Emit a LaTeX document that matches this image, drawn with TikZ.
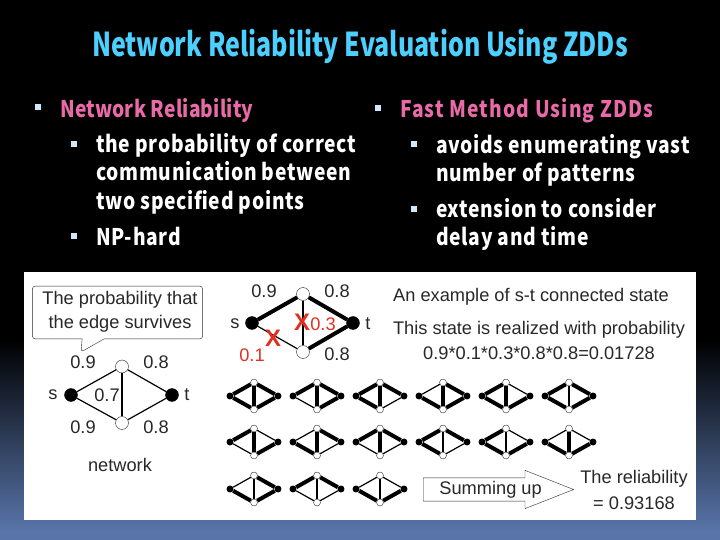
\documentclass[tikz,border=0pt]{standalone}
\usepackage{fontspec}
\setmainfont{Liberation Sans}
\newfontfamily\slidefont[LetterSpace=3,FakeStretch=0.84]{Noto Sans CJK JP}
\newfontfamily\titlefont[FakeStretch=0.76]{Noto Sans CJK JP}
\usepackage{tikz}
\usetikzlibrary{shapes.callouts}
\usetikzlibrary{shapes.arrows}
\definecolor{skyblue}{RGB}{76,208,255}
\definecolor{headpink}{RGB}{232,106,166}
\definecolor{bulletblue}{RGB}{208,232,250}
\definecolor{slideblue}{RGB}{88,116,168}
\definecolor{inkgray}{RGB}{40,40,40}
\definecolor{crossred}{RGB}{224,48,32}
\tikzset{
    headtext/.style={anchor=west, inner sep=0pt, text=headpink, font=\slidefont\bfseries\fontsize{23}{28}\selectfont},
    bodytext/.style={anchor=west, inner sep=0pt, text=white, align=left, font=\slidefont\bfseries\fontsize{23}{28.5}\selectfont},
    bulletmark/.style={fill=bulletblue, minimum size=7, inner sep=0pt},
    lbl/.style={text=inkgray, inner sep=0pt, font=\fontsize{18.3}{20}\selectfont},
    redlbl/.style={text=crossred, inner sep=0pt, font=\fontsize{18.3}{20}\selectfont},
    crossmark/.style={text=crossred, inner sep=0pt, font=\bfseries\fontsize{24}{24}\selectfont},
    bigblack/.style={circle, fill=black, draw=black, minimum size=13, inner sep=0pt},
    bigwhite/.style={circle, fill=white, draw=inkgray, minimum size=13, inner sep=0pt},
    tinyblack/.style={circle, fill=black, minimum size=7, inner sep=0pt},
    tinywhite/.style={circle, fill=white, draw=inkgray, minimum size=7, inner sep=0pt},
    edge0/.style={black, line width=1.2},
    edge1/.style={black, line width=4},
}
\begin{document}
\begin{tikzpicture}[x=1bp, y=-1bp]
    \useasboundingbox (0,0) rectangle (720,540);
    \fill[black] (0,0) rectangle (720,340);
    \shade[top color=black, bottom color=slideblue] (0,340) rectangle (720,530);
    \fill[slideblue] (0,530) rectangle (720,540);
    \fill[white] (24,272) rectangle (696,520);

    \node[text=skyblue, font=\titlefont\bfseries\fontsize{33}{36}\selectfont] (title) at (360,46.5) {Network Reliability Evaluation Using ZDDs};

    \node[bulletmark] (bl1) at (38,107) {};
    \node[headtext] (reliab) at (60,110) {\addfontfeature{LetterSpace=0.8}Network Reliability};
    \node[bulletmark] (bl2) at (74,144) {};
    \node[bodytext, anchor=north west] (prob) at (96,133) {the probability of correct\\communication between\\two specified points};
    \node[bulletmark] (bl3) at (74,236) {};
    \node[bodytext] (nphard) at (96,237) {NP-hard};

    \node[bulletmark] (br1) at (378,108) {};
    \node[headtext] (fastzdd) at (400,111) {\addfontfeature{LetterSpace=5}Fast Method Using ZDDs};
    \node[bulletmark] (br2) at (414,144) {};
    \node[bodytext, anchor=north west] (avoids) at (436,134) {avoids enumerating vast\\number of patterns};
    \node[bulletmark] (br3) at (414,209) {};
    \node[bodytext, anchor=north west] (extens) at (436,198) {extension to consider\\delay and time};

    \node[rectangle callout, draw=inkgray, fill=white, rounded corners=3, minimum width=171, minimum height=53, callout absolute pointer={(81,352)}, callout pointer width=22] (surv) at (117.5,312.5) {};
    \node[lbl] (surv1) at (120,300) {The probability that};
    \node[lbl] (surv2) at (120,324) {the edge survives};

    \node[bigblack] (s) at (71,395) {};
    \node[bigwhite] (u) at (122,366.5) {};
    \node[bigwhite] (v) at (122,423) {};
    \node[bigblack] (t) at (172,395) {};
    \draw[edge0] (s) -- (u);
    \draw[edge0] (s) -- (v);
    \draw[edge0] (u) -- (t);
    \draw[edge0] (v) -- (t);
    \draw[edge0] (u) -- (v);
    \node[lbl] at (83,362) {0.9};
    \node[lbl] at (156,362) {0.8};
    \node[lbl] at (83,427) {0.9};
    \node[lbl] at (156,427) {0.8};
    \node[lbl] at (107,395) {0.7};
    \node[lbl] at (53,395) {s};
    \node[lbl] at (187,395) {t};
    \node[lbl] at (120,465) {network};

    \node[bigblack] (sx) at (252,323) {};
    \node[bigwhite] (ux) at (303,294) {};
    \node[bigwhite] (vx) at (303,352) {};
    \node[bigblack] (tx) at (353,323) {};
    \draw[edge1] (sx) -- (ux);
    \draw[edge0] (sx) -- (vx);
    \draw[edge1] (ux) -- (tx);
    \draw[edge1] (vx) -- (tx);
    \draw[edge0] (ux) -- (vx);
    \node[crossmark] at (273,338) {X};
    \node[crossmark] at (302,322) {X};
    \node[lbl] at (264,291) {0.9};
    \node[lbl] at (337,291) {0.8};
    \node[lbl] at (337,354) {0.8};
    \node[redlbl] at (252,355) {0.1};
    \node[redlbl] at (323,324) {0.3};
    \node[lbl] at (235,324) {s};
    \node[lbl] at (368,324) {t};

    \node[lbl] (exmpl) at (531,297) {An example of s-t connected state};
    \node[lbl] (state) at (539,330) {This state is realized with probability};
    \node[lbl] (calc) at (539,353) {0.9*0.1*0.3*0.8*0.8=0.01728};

    \foreach \x/\y/\a/\b/\c/\d/\e in {
        230/396/1/1/1/1/1, 293/396/1/0/1/1/1, 356/396/1/1/1/0/1,
        419/396/0/1/1/1/1, 482/396/1/1/0/1/1, 545/396/1/1/1/1/0,
        230/442/1/0/0/1/1, 293/442/0/1/1/0/1, 356/442/1/0/1/0/1,
        419/442/1/1/1/0/0, 482/442/1/1/0/1/0, 545/442/0/1/0/1/1,
        230/489/0/1/1/1/0, 293/489/1/0/1/0/0, 356/489/0/1/0/1/0} {
        \node[tinyblack] (s\x\y) at (\x,\y) {};
        \node[tinywhite] (u\x\y) at (\x+24,\y-13.5) {};
        \node[tinywhite] (v\x\y) at (\x+24,\y+13.5) {};
        \node[tinyblack] (t\x\y) at (\x+48,\y) {};
        \draw[edge\a] (s\x\y) -- (u\x\y);
        \draw[edge\b] (s\x\y) -- (v\x\y);
        \draw[edge\c] (u\x\y) -- (t\x\y);
        \draw[edge\d] (v\x\y) -- (t\x\y);
        \draw[edge\e] (u\x\y) -- (v\x\y);
    }

    \node[single arrow, lbl, draw=inkgray, fill=white, anchor=tail, inner ysep=3, inner xsep=2, minimum height=149, minimum width=35, single arrow head extend=7.5, single arrow tip angle=43] (summing) at (423,489.5) {\hspace*{14bp}Summing up};
    \node[lbl] (relia) at (634,479) {The reliability};
    \node[lbl] (value) at (634,503) {= 0.93168};
\end{tikzpicture}
\end{document}
